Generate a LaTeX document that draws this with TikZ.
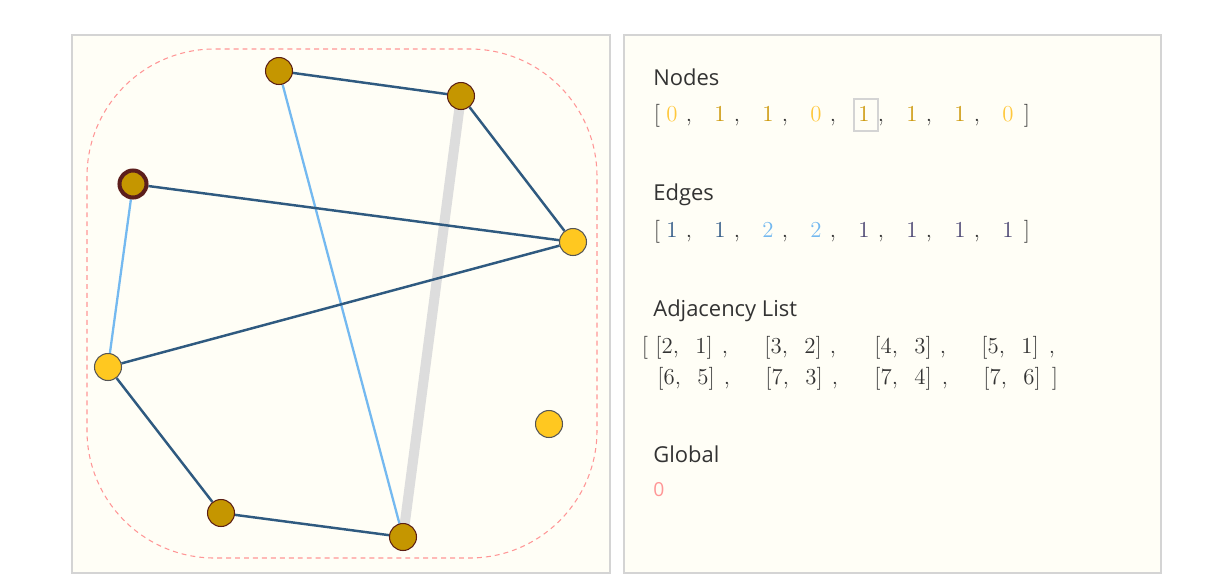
\documentclass[tikz,border=0pt]{standalone}
\usepackage{fontspec}
\usetikzlibrary{positioning,backgrounds}
\newfontfamily\headfont{Open Sans}
\definecolor{panelbg}{RGB}{255,254,246}
\definecolor{panelrim}{RGB}{212,212,212}
\definecolor{boundred}{RGB}{255,150,150}
\definecolor{goldon}{RGB}{197,150,0}
\definecolor{goldoff}{RGB}{255,200,32}
\definecolor{rimdark}{RGB}{90,30,20}
\definecolor{rimgray}{RGB}{85,85,85}
\definecolor{selrim}{RGB}{92,30,28}
\definecolor{edgedark}{RGB}{47,90,128}
\definecolor{edgelight}{RGB}{116,185,240}
\definecolor{hintgray}{RGB}{221,221,221}
\definecolor{inktext}{RGB}{51,51,51}
\definecolor{ontxt}{RGB}{205,152,10}
\definecolor{offtxt}{RGB}{255,200,60}
\definecolor{wdark}{RGB}{50,90,135}
\definecolor{wmauve}{RGB}{75,70,115}
\definecolor{globalpink}{RGB}{255,150,150}

\tikzset{
  panel/.style={fill=panelbg, draw=panelrim, line width=0.6pt},
  bound/.style={draw=boundred, line width=0.6pt, dash pattern=on 2.8pt off 2.3pt, rounded corners=2.55cm},
  vert/.style={circle, minimum size=0.54cm, inner sep=0pt, line width=0.6pt},
  lit/.style={vert, fill=goldon, draw=rimdark},
  unlit/.style={vert, fill=goldoff, draw=rimgray},
  chosen/.style={line width=2.3pt, draw=selrim, minimum size=0.54cm},
  wone/.style={draw=edgedark, line width=1.4pt},
  wtwo/.style={draw=edgelight, line width=1.3pt},
  hint/.style={draw=hintgray, line width=5.7pt},
  head/.style={font=\headfont\fontsize{12.5}{15}\selectfont, text=inktext, anchor=base west, inner sep=0pt},
  digit/.style={font=\fontsize{13}{15}\selectfont, text=inktext, anchor=base, inner sep=0pt},
  pickbox/.style={draw=panelrim, line width=0.8pt, minimum width=0.48cm, minimum height=0.64cm, inner sep=0pt}
}

\begin{document}
\begin{tikzpicture}[x=0.02cm, y=-0.02cm]
  \useasboundingbox (0,0) rectangle (1215,586);

  % Panels
  \begin{scope}[on background layer]
    \draw[panel] (72,35) rectangle (610,573);
    \draw[panel] (624,35) rectangle (1161,573);
    \draw[bound] (87,49) rectangle (597,558);
  \end{scope}

  % Vertices
  \node[unlit] (v0) at (549,424) {};
  \node[lit] (v1) at (403,537) {};
  \node[lit] (v2) at (221,513) {};
  \node[unlit] (v3) at (108,367) {};
  \node[lit, chosen] (v4) at (133,184) {};
  \node[lit] (v5) at (279,71) {};
  \node[lit] (v6) at (461,96) {};
  \node[unlit] (v7) at (573,242) {};

  % Edges
  \begin{scope}[on background layer]
    \draw[hint] (v6.center) -- (v1.center);
    \draw[wone] (v2) -- (v1);
    \draw[wone] (v3) -- (v2);
    \draw[wtwo] (v4) -- (v3);
    \draw[wtwo] (v5) -- (v1);
    \draw[wone] (v6) -- (v5);
    \draw[wone] (v7) -- (v3);
    \draw[wone] (v7) -- (v4);
    \draw[wone] (v7) -- (v6);
  \end{scope}

  % Nodes array
  \node[head] (hnodes) at (653,85) {Nodes};
  \node[digit] (nl) at (657,121) {[};
  \foreach \v/\c [count=\i from 0] in {0/offtxt,1/ontxt,1/ontxt,0/offtxt,1/ontxt,1/ontxt,1/ontxt,0/offtxt}
    \node[digit, text=\c] (n\i) at (672+48*\i,121) {\v};
  \foreach \i in {0,...,6}
    \node[digit] (nc\i) at (689+48*\i,121) {,};
  \node[digit] (nr) at (1027,121) {]};
  \node[pickbox] (nbox) at (866,115) {};

  % Edges array
  \node[head] (hedges) at (653,200) {Edges};
  \node[digit] (el) at (657,237) {[};
  \foreach \v/\c [count=\i from 0] in {1/wdark,1/wdark,2/edgelight,2/edgelight,1/wmauve,1/wmauve,1/wmauve,1/wmauve}
    \node[digit, text=\c] (e\i) at (672+48*\i,237) {\v};
  \foreach \i in {0,...,6}
    \node[digit] (ec\i) at (689+48*\i,237) {,};
  \node[digit] (er) at (1027,237) {]};

  % Adjacency list
  \node[head] (hadj) at (653,316) {Adjacency List};
  \node[digit] (al) at (645,353) {[};
  \foreach \p/\x [count=\i] in {{2,\hspace{0.72em}1}/655,{3,\hspace{0.72em}2}/764,{4,\hspace{0.72em}3}/874,{5,\hspace{0.72em}1}/981}
    \node[digit, anchor=base west] (a\i) at (\x,353) {[\p]};
  \foreach \x [count=\i] in {725,833,943,1052}
    \node[digit] (ac\i) at (\x,353) {,};
  \foreach \p/\x [count=\i from 5] in {{6,\hspace{0.72em}5}/657,{7,\hspace{0.72em}3}/765,{7,\hspace{0.72em}4}/874,{7,\hspace{0.72em}6}/983}
    \node[digit, anchor=base west] (a\i) at (\x,384) {[\p]};
  \foreach \x [count=\i from 5] in {727,835,945}
    \node[digit] (ac\i) at (\x,384) {,};
  \node[digit] (ar) at (1055,384) {]};

  % Global
  \node[head] (hglobal) at (653,462) {Global};
  \node[head, text=globalpink, font=\headfont\fontsize{11}{13}\selectfont] (gval) at (653,496) {0};
\end{tikzpicture}
\end{document}
